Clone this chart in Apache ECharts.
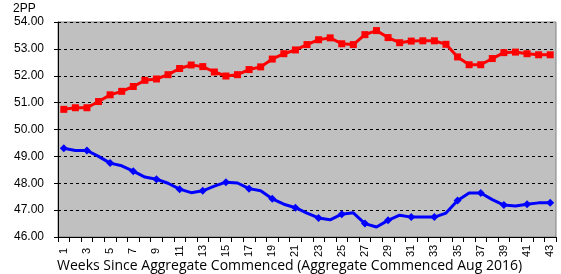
<!DOCTYPE html>
<html><head><meta charset="utf-8">
<script src="https://cdn.jsdelivr.net/npm/echarts@6/dist/echarts.min.js"></script>
<style>html,body{margin:0;padding:0;background:#fff}#c{width:561px;height:274px}</style>
</head><body><div id="c"></div>
<script>
var weeks = [];
for (var i = 1; i <= 43; i++) weeks.push(String(i));
var redSeries = [50.75,50.81,50.81,51.04,51.29,51.42,51.60,51.83,51.88,52.04,52.27,52.40,52.34,52.14,51.99,52.04,52.23,52.33,52.62,52.82,52.96,53.16,53.34,53.41,53.19,53.16,53.53,53.68,53.42,53.23,53.29,53.30,53.30,53.17,52.70,52.41,52.41,52.64,52.86,52.88,52.82,52.78,52.78];
var blueSeries = [49.30,49.22,49.22,49.00,48.75,48.65,48.45,48.23,48.15,48.00,47.78,47.65,47.72,47.89,48.04,48.01,47.80,47.72,47.42,47.22,47.09,46.89,46.71,46.64,46.85,46.90,46.50,46.37,46.62,46.81,46.74,46.74,46.74,46.89,47.36,47.64,47.64,47.39,47.19,47.15,47.22,47.27,47.27];
var yTitle = '2PP';
var xTitle = 'Weeks Since Aggregate Commenced (Aggregate Commenced Aug 2016)';

var chart = echarts.init(document.getElementById('c'), null, {renderer: 'canvas'});
chart.setOption({
  animation: false,
  backgroundColor: '#ffffff',
  grid: {left: 58, right: 5, top: 22, bottom: 37, show: true, backgroundColor: '#C0C0C0', borderColor: '#808080', borderWidth: 1},
  xAxis: {
    type: 'category', data: weeks, boundaryGap: true,
    axisLine: {lineStyle: {color: '#000', width: 1}},
    axisTick: {show: true, interval: 0, length: 5, lineStyle: {color: '#000'}},
    axisLabel: {interval: 1, rotate: 90, align: 'center', verticalAlign: 'middle', color: '#000', fontFamily: 'Liberation Sans, Arial', fontSize: 11, margin: 14},
    splitLine: {show: false}
  },
  yAxis: {
    type: 'value', min: 46, max: 54, interval: 1,
    axisLine: {show: true, lineStyle: {color: '#000', width: 1}},
    axisTick: {show: true, length: 4, lineStyle: {color: '#000'}},
    axisLabel: {color: '#000', fontFamily: 'Liberation Sans, Arial', fontSize: 12, margin: 14, formatter: function(v){return v.toFixed(2);}},
    splitLine: {show: true, lineStyle: {color: '#000', type: [3, 3], width: 1}}
  },
  graphic: [
    {type: 'text', left: 13, top: 3, style: {text: yTitle, fill: '#000', font: '12px "Liberation Sans", Arial'}},
    {type: 'text', x: 57, y: 266, style: {text: xTitle, fill: '#000', font: '14px "Open Sans"', textVerticalAlign: 'middle'}}
  ],
  series: [
    {type: 'line', data: redSeries, symbol: 'rect', symbolSize: 7, lineStyle: {color: '#FF0000', width: 3}, itemStyle: {color: '#FF0000'}},
    {type: 'line', data: blueSeries, symbol: 'diamond', symbolSize: 8, lineStyle: {color: '#0000FF', width: 3}, itemStyle: {color: '#0000FF'}}
  ]
});
</script></body></html>
